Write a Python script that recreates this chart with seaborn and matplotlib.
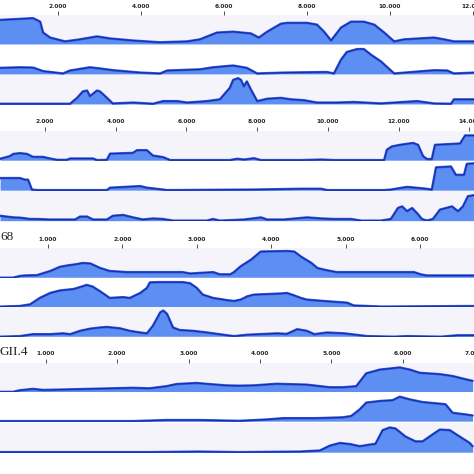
import matplotlib
matplotlib.use("Agg")
import matplotlib.pyplot as plt
import seaborn as sns
from matplotlib.ticker import FuncFormatter

# ---- panel 1 (genome position in nt, similarity as fraction of track height)
p1_t1_pos = [600, 1400, 1570, 1640, 1810, 2170, 2530, 2940, 3250, 3810, 4460, 5110, 5420, 5830, 6220,
             6650, 6840, 7040, 7370, 7520, 8000, 8240, 8410, 8580, 8820, 9060, 9370, 9620, 9860, 10100,
             10340, 11060, 11300, 11540, 12030]
p1_t1_val = [0.83, 0.89, 0.77, 0.40, 0.23, 0.10, 0.17, 0.27, 0.20, 0.13, 0.07, 0.10, 0.17, 0.40, 0.43,
             0.37, 0.23, 0.43, 0.70, 0.73, 0.73, 0.67, 0.43, 0.13, 0.57, 0.77, 0.77, 0.67, 0.40, 0.10,
             0.17, 0.23, 0.17, 0.10, 0.10]
p1_t2_pos = [600, 1080, 1400, 1640, 2120, 2290, 2770, 3010, 3330, 3980, 4460, 4630, 5420, 5740, 6220,
             6550, 6800, 7450, 8480, 8650, 8820, 8960, 9210, 9370, 9540, 9780, 10100, 11060, 11380, 11540,
             12030]
p1_t2_val = [0.22, 0.24, 0.23, 0.11, 0.03, 0.13, 0.24, 0.20, 0.14, 0.06, 0.03, 0.13, 0.17, 0.24, 0.30,
             0.22, 0.03, 0.06, 0.08, 0.03, 0.50, 0.76, 0.86, 0.86, 0.67, 0.44, 0.03, 0.14, 0.13, 0.03,
             0.06]
p1_t3_pos = [600, 2220, 2290, 2460, 2600, 2700, 2770, 2940, 3010, 3180, 3320, 3810, 4290, 4530, 4870,
             5110, 5590, 5900, 6140, 6220, 6340, 6410, 6480, 6550, 6650, 6800, 7040, 7370, 7610, 7930,
             8240, 8720, 9130, 9780, 10650, 11060, 11470, 11540, 12030]
p1_t3_val = [0.02, 0.02, 0.02, 0.22, 0.44, 0.47, 0.28, 0.47, 0.44, 0.22, 0.03, 0.06, 0.02, 0.11, 0.11,
             0.06, 0.11, 0.17, 0.56, 0.83, 0.89, 0.83, 0.61, 0.78, 0.50, 0.11, 0.19, 0.22, 0.17, 0.14,
             0.06, 0.06, 0.08, 0.03, 0.11, 0.03, 0.02, 0.17, 0.17]

# ---- panel 2
p2_t1_pos = [730, 1010, 1100, 1290, 1490, 1660, 1940, 2140, 2340, 2620, 2710, 3360, 3470, 3750, 3840,
             4490, 4600, 4880, 5050, 5340, 5540, 7230, 7430, 7630, 7910, 8110, 9240, 9810, 10170, 11590,
             11670, 11810, 12040, 12410, 12550, 12690, 12800, 12940, 13030, 13740, 13880, 14130]
p2_t1_val = [0.05, 0.15, 0.23, 0.26, 0.23, 0.12, 0.12, 0.06, 0.01, 0.01, 0.06, 0.06, 0.0, 0.01, 0.24,
             0.27, 0.37, 0.37, 0.17, 0.11, 0.0, 0.0, 0.05, 0.02, 0.07, 0.0, 0.0, 0.02, 0.0, 0.0,
             0.39, 0.51, 0.57, 0.64, 0.57, 0.15, 0.04, 0.04, 0.57, 0.62, 0.92, 0.92]
p2_t2_pos = [730, 1290, 1430, 1520, 1630, 1770, 3750, 3840, 4690, 4880, 5340, 5450, 7910, 9240, 9810,
             9980, 11590, 11780, 12240, 12720, 12940, 13060, 13480, 13620, 13850, 13930, 14130]
p2_t2_val = [0.45, 0.45, 0.39, 0.39, 0.02, 0.0, 0.0, 0.09, 0.15, 0.09, 0.02, 0.0, 0.02, 0.05, 0.05,
             0.0, 0.0, 0.02, 0.12, 0.06, 0.02, 0.85, 0.88, 0.57, 0.57, 0.98, 1.0]
p2_t3_pos = [730, 1100, 1290, 1580, 1770, 2140, 2620, 2850, 2990, 3190, 3360, 3750, 3920, 4210, 4490,
             4770, 5050, 5340, 5620, 6580, 6750, 6950, 7630, 8110, 8280, 8760, 9410, 9810, 10170, 10650,
             10940, 11500, 11780, 11840, 11980, 12100, 12240, 12380, 12520, 12660, 12800, 12970, 13170,
             13510, 13680, 13820, 13960, 14130]
p2_t3_val = [0.18, 0.12, 0.11, 0.06, 0.06, 0.04, 0.04, 0.04, 0.15, 0.15, 0.04, 0.04, 0.18, 0.21, 0.12,
             0.04, 0.08, 0.06, 0.0, 0.0, 0.06, 0.0, 0.04, 0.12, 0.04, 0.04, 0.12, 0.08, 0.06, 0.06,
             0.0, 0.0, 0.06, 0.18, 0.47, 0.53, 0.35, 0.47, 0.28, 0.06, 0.0, 0.06, 0.41,
             0.53, 0.35, 0.53, 0.91, 0.95]

# ---- panel 3 ("68")
p3_t1_pos = [355, 530, 620, 690, 850, 1030, 1160, 1260, 1390, 1470, 1570, 1700, 1830, 2060, 2280,
             2810, 2910, 3220, 3310, 3450, 3500, 3590, 3730, 3860, 4210, 4310, 4400, 4540, 4620, 4710,
             4800, 4880, 5210, 5920, 6010, 6090, 6730]
p3_t1_val = [0.0, 0.0, 0.06, 0.08, 0.09, 0.24, 0.39, 0.44, 0.49, 0.53, 0.51, 0.35, 0.24, 0.20, 0.20,
             0.20, 0.15, 0.20, 0.12, 0.12, 0.20, 0.41, 0.65, 0.94, 0.96, 0.94, 0.76, 0.53, 0.35, 0.29,
             0.24, 0.20, 0.20, 0.20, 0.12, 0.08, 0.08]
p3_t2_pos = [355, 620, 760, 890, 1030, 1160, 1340, 1430, 1520, 1600, 1700, 1830, 2010, 2100, 2240,
             2330, 2370, 2470, 2810, 2910, 3000, 3080, 3220, 3410, 3500, 3590, 3680, 3770, 4130, 4210,
             4310, 4400, 4480, 4710, 5020, 5110, 5480, 6730]
p3_t2_val = [0.04, 0.06, 0.12, 0.35, 0.53, 0.62, 0.67, 0.74, 0.82, 0.76, 0.59, 0.35, 0.38, 0.35, 0.53,
             0.71, 0.91, 0.92, 0.92, 0.88, 0.71, 0.47, 0.35, 0.27, 0.24, 0.29, 0.41, 0.47, 0.51, 0.53,
             0.44, 0.35, 0.29, 0.24, 0.18, 0.08, 0.04, 0.06]
p3_t3_pos = [355, 620, 800, 1030, 1200, 1300, 1430, 1570, 1700, 1790, 1970, 2100, 2240, 2330, 2410,
             2510, 2550, 2600, 2680, 2770, 2950, 3140, 3410, 3500, 3680, 4080, 4210, 4350, 4480, 4580,
             4750, 4980, 5290, 5650, 5820, 6280, 6500, 6730]
p3_t3_val = [0.0, 0.02, 0.09, 0.09, 0.12, 0.09, 0.21, 0.29, 0.33, 0.35, 0.30, 0.21, 0.15, 0.12, 0.39,
             0.88, 0.94, 0.82, 0.33, 0.24, 0.21, 0.15, 0.05, 0.02, 0.07, 0.12, 0.10, 0.27, 0.21, 0.09,
             0.15, 0.12, 0.02, 0.0, 0.02, 0.0, 0.05, 0.05]

# ---- panel 4 ("GII.4")
p4_t1_pos = [360, 540, 640, 820, 960, 1290, 1760, 2220, 2450, 2690, 2830, 3110, 3290, 3530, 3710,
             3910, 4230, 4650, 4980, 5160, 5350, 5420, 5490, 5680, 5960, 6100, 6240, 6520, 6700, 6880,
             6980]
p4_t1_val = [0.01, 0.01, 0.07, 0.12, 0.08, 0.10, 0.13, 0.16, 0.14, 0.22, 0.30, 0.34, 0.30, 0.25, 0.24,
             0.25, 0.31, 0.28, 0.18, 0.18, 0.22, 0.46, 0.70, 0.84, 0.92, 0.84, 0.72, 0.67, 0.60, 0.48,
             0.42]
p4_t2_pos = [360, 1290, 2220, 2690, 3150, 3710, 4090, 4330, 4790, 5160, 5280, 5400, 5490, 5680, 5860,
             5960, 6100, 6280, 6600, 6700, 6880, 6980]
p4_t2_val = [0.0, 0.0, 0.0, 0.04, 0.04, 0.01, 0.06, 0.11, 0.11, 0.14, 0.19, 0.44, 0.69, 0.75, 0.78,
             0.91, 0.81, 0.71, 0.63, 0.31, 0.25, 0.21]
p4_t3_pos = [360, 2450, 3150, 3710, 4560, 4840, 4980, 5120, 5260, 5400, 5540, 5620, 5720, 5820, 5900,
             6040, 6180, 6280, 6420, 6520, 6660, 6800, 6940, 6980]
p4_t3_val = [0.0, 0.0, 0.02, 0.0, 0.02, 0.06, 0.24, 0.34, 0.30, 0.22, 0.28, 0.31, 0.82, 0.92, 0.88,
             0.58, 0.40, 0.40, 0.66, 0.84, 0.82, 0.58, 0.34, 0.22]

panels = [
    {"xlim": (602, 12024), "step": 2000, "bases": (45, 75, 105), "ymax": 1.0, "label": None,
     "tracks": [(p1_t1_pos, p1_t1_val), (p1_t2_pos, p1_t2_val), (p1_t3_pos, p1_t3_val)]},
    {"xlim": (727, 14132), "step": 2000, "bases": (160.7, 190.7, 221.2), "ymax": 1.1, "label": None,
     "tracks": [(p2_t1_pos, p2_t1_val), (p2_t2_pos, p2_t2_val), (p2_t3_pos, p2_t3_val)]},
    {"xlim": (355, 6726), "step": 1000, "bases": (278.3, 308.3, 337.3), "ymax": 1.06, "label": "68",
     "tracks": [(p3_t1_pos, p3_t1_val), (p3_t2_pos, p3_t2_val), (p3_t3_pos, p3_t3_val)]},
    {"xlim": (358, 7000), "step": 1000, "bases": (392.7, 421.7, 452.7), "ymax": 1.1, "label": "GII.4",
     "tracks": [(p4_t1_pos, p4_t1_val), (p4_t2_pos, p4_t2_val), (p4_t3_pos, p4_t3_val)]},
]

sns.set_style("white")
plt.rcParams["font.family"] = ["DejaVu Sans"]

W = H = 474
band = 30
fill_col = "#5d8ef1"
mid_col = "#2f5ce6"
edge_col = "#1a2ba0"
lav = "#f6f4fb"

fig = plt.figure(figsize=(4.74, 4.74), dpi=100)
thousands = FuncFormatter(lambda v, p: f"{int(v):,}".replace(",", "."))

for p in panels:
    for i, (pos, val) in enumerate(p["tracks"]):
        base = p["bases"][i]
        ax = fig.add_axes([0, 1 - base / H, 1, band / H])
        ax.set_facecolor(lav if i != 1 else "white")
        ax.fill_between(pos, 0, val, color=fill_col, lw=0)
        sns.lineplot(x=pos, y=val, ax=ax, color=mid_col, lw=1.8, estimator=None, sort=False)
        sns.lineplot(x=pos, y=val, ax=ax, color=edge_col, lw=0.8, estimator=None, sort=False)
        ax.set_xlim(*p["xlim"])
        ax.set_ylim(-0.02, p["ymax"])
        ax.set_yticks([])
        ax.set_xlabel("")
        ax.set_ylabel("")
        for s in ax.spines.values():
            s.set_visible(False)
        if i == 0:
            ax.xaxis.tick_top()
            ax.set_xticks(range(p["step"], int(p["xlim"][1]) + 1, p["step"]))
            ax.xaxis.set_major_formatter(thousands)
            ax.tick_params(axis="x", direction="out", length=3, width=0.6, color="#333333",
                           labelsize=4.2, pad=1.5, top=True, bottom=False)
            for t in ax.get_xticklabels():
                t.set_fontweight("bold")
        else:
            ax.set_xticks([])

    if p["label"]:
        y_lab = 1 - (p["bases"][0] - band - 11) / H
        fig.text(0.0, y_lab, p["label"], family="Liberation Serif", fontsize=9.5,
                 ha="left", va="center", color="#222222")

fig.savefig("out.png", dpi=100)
